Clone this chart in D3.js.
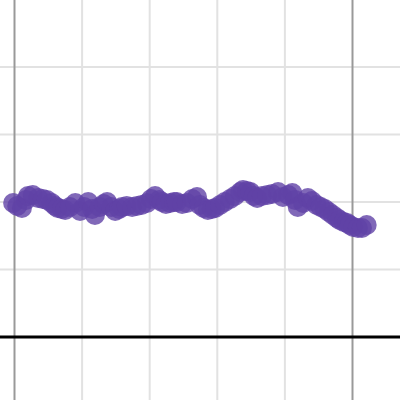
<!DOCTYPE html>
<html>
<head>
<meta charset="utf-8">
<script src="https://cdn.jsdelivr.net/npm/d3@7"></script>
<style>
  body { margin: 0; background: #fff; }
  svg { display: block; }
</style>
</head>
<body>
<div id="plot"></div>
<script>
// Data (graph units)
const xValues = [-0.02, 0.04, 0.11, 0.17, 0.20, 0.27, 0.35, 0.42, 0.48, 0.55,
  0.60, 0.64, 0.70, 0.75, 0.82, 0.90, 0.97, 1.03, 1.09, 1.15,
  1.19, 1.26, 1.32, 1.37, 1.43, 1.49, 1.55, 1.59, 1.66, 1.74,
  1.81, 1.88, 1.96, 2.02, 2.08, 2.14, 2.18, 2.24, 2.30, 2.36,
  2.40, 2.48, 2.55, 2.63, 2.70, 2.74, 2.80, 2.86, 2.92, 2.97,
  3.04, 3.11, 3.19, 3.26, 3.34, 3.38, 3.44, 3.49, 3.54, 3.59,
  3.66, 3.74, 3.81, 3.90, 3.97, 4.05, 4.11, 4.15, 4.19, 4.27,
  4.34, 4.40, 4.47, 4.53, 4.59, 4.65, 4.71, 4.77, 4.81, 4.87,
  4.92, 4.96, 5.01, 5.08, 5.14, 5.21];
const yValues = [1.985, 1.941, 1.911, 2.030, 2.089, 2.104, 2.059, 2.044, 2.030, 1.985,
  1.941, 1.911, 1.896, 1.881, 1.926, 1.985, 1.867, 1.926, 2.000, 1.896,
  1.807, 1.926, 1.970, 2.000, 1.926, 1.867, 1.896, 1.926, 1.941, 1.926,
  1.941, 1.956, 1.985, 2.044, 2.089, 2.030, 2.000, 1.970, 1.985, 2.000,
  2.000, 1.970, 1.985, 2.044, 2.074, 1.956, 1.911, 1.881, 1.896, 1.911,
  1.956, 2.000, 2.044, 2.089, 2.148, 2.178, 2.163, 2.148, 2.089, 2.059,
  2.089, 2.104, 2.119, 2.148, 2.074, 2.104, 2.133, 2.030, 1.926, 1.985,
  2.059, 2.015, 1.956, 1.926, 1.896, 1.852, 1.807, 1.763, 1.733, 1.704,
  1.689, 1.659, 1.630, 1.615, 1.615, 1.659];
const gridX = [1, 2, 3, 4];
const gridY = [1, 2, 3, 4];
const darkX = [0, 5];

const width = 400, height = 400;
const svg = d3.select("#plot")
    .append("svg")
    .attr("width", width)
    .attr("height", height);

const x = d3.scaleLinear()
    .domain([-14.5 / 67.6, (width - 14.5) / 67.6])
    .range([0, width]);
const y = d3.scaleLinear()
    .domain([(337 - height) / 67.5, 337 / 67.5])
    .range([height, 0]);

// light grid
svg.append("g").selectAll("line")
    .data(gridX)
    .enter()
    .append("line")
    .attr("x1", (d) => x(d)).attr("x2", (d) => x(d))
    .attr("y1", 0).attr("y2", height)
    .style("stroke", "#e2e2e2")
    .style("stroke-width", 2);
svg.append("g").selectAll("line")
    .data(gridY)
    .enter()
    .append("line")
    .attr("y1", (d) => y(d)).attr("y2", (d) => y(d))
    .attr("x1", 0).attr("x2", width)
    .style("stroke", "#e2e2e2")
    .style("stroke-width", 2);

// darker verticals
svg.append("g").selectAll("line")
    .data(darkX)
    .enter()
    .append("line")
    .attr("x1", (d) => x(d)).attr("x2", (d) => x(d))
    .attr("y1", 0).attr("y2", height)
    .style("stroke", "#999")
    .style("stroke-width", 2);

// x axis
svg.append("line")
    .attr("x1", 0).attr("x2", width)
    .attr("y1", y(0)).attr("y2", y(0))
    .style("stroke", "#000")
    .style("stroke-width", 3);

// points
svg.append("g").selectAll("circle")
    .data(d3.zip(xValues, yValues))
    .enter()
    .append("circle")
    .attr("cx", (d) => x(d[0]))
    .attr("cy", (d) => y(d[1]))
    .attr("r", 10)
    .style("fill", "#6042a6")
    .style("fill-opacity", 0.8);
</script>
</body>
</html>
